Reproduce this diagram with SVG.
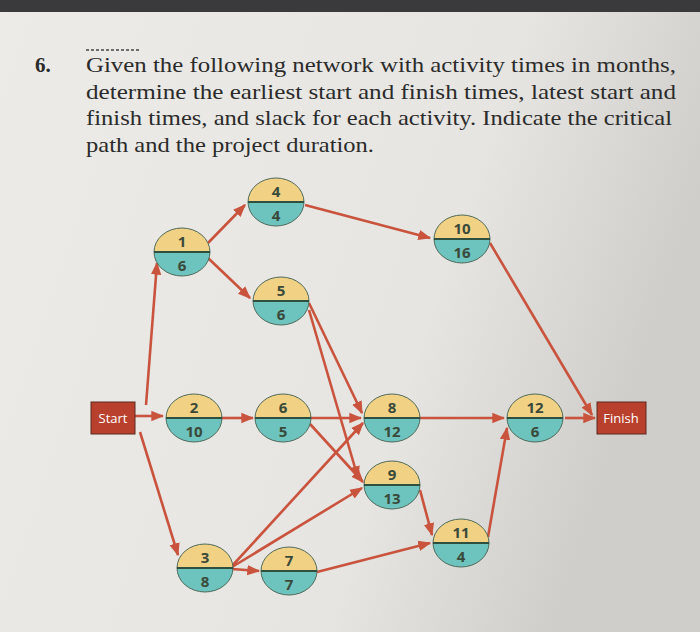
<svg xmlns="http://www.w3.org/2000/svg" width="700" height="632" viewBox="0 0 700 632">
<defs>
<linearGradient id="bg" x1="0" y1="0" x2="1" y2="0.3">
<stop offset="0" stop-color="#ecebe8"/><stop offset="0.7" stop-color="#e6e5e2"/><stop offset="1" stop-color="#cfcecb"/>
</linearGradient>
<marker id="ar" viewBox="0 0 10 10" refX="9" refY="5" markerWidth="5" markerHeight="5" orient="auto"><path d="M0,1 L10,5 L0,9 z" fill="#c9533d"/></marker>
<clipPath id="top"><rect x="-40" y="-40" width="80" height="40"/></clipPath>
<clipPath id="bot"><rect x="-40" y="0" width="80" height="40"/></clipPath>
<g id="nd">
<ellipse rx="28" ry="24" fill="#f1d184" clip-path="url(#top)"/>
<ellipse rx="28" ry="24" fill="#6dc3bd" clip-path="url(#bot)"/>
<ellipse rx="28" ry="24" fill="none" stroke="#4f6a5a" stroke-width="1"/>
<line x1="-28" y1="0" x2="28" y2="0" stroke="#2f4f3f" stroke-width="2"/>
</g>
</defs>
<style>
.t{font-family:"Liberation Serif",serif;font-size:21px;fill:#2b2b2b}
.e{stroke:#c9533d;stroke-width:2.6;fill:none;marker-end:url(#ar)}
.n{font-family:"Open Sans","DejaVu Sans",sans-serif;font-size:15px;font-weight:bold;fill:#3a4a3a;text-anchor:middle}
.b{fill:#b8402c;stroke:#5a2a20;stroke-width:1}
.bt{font-family:"Open Sans","DejaVu Sans",sans-serif;font-size:13px;fill:#fff;text-anchor:middle}
</style>
<rect width="700" height="632" fill="url(#bg)"/>
<rect width="700" height="12" fill="#3a3a3c"/>
<path d="M86 50 h55" stroke="#444" stroke-width="1.5" stroke-dasharray="3,2"/>
<text class="t" x="35" y="72" font-weight="bold">6.</text>
<text class="t" x="86" y="72" textLength="590" lengthAdjust="spacingAndGlyphs">Given the following network with activity times in months,</text>
<text class="t" x="86" y="99" textLength="590" lengthAdjust="spacingAndGlyphs">determine the earliest start and finish times, latest start and</text>
<text class="t" x="86" y="125" textLength="586" lengthAdjust="spacingAndGlyphs">finish times, and slack for each activity. Indicate the critical</text>
<text class="t" x="86" y="152" textLength="288" lengthAdjust="spacingAndGlyphs">path and the project duration.</text>
<g id="connectors">
<line class="e" x1="146" y1="405" x2="157" y2="263"/>
<line class="e" x1="134" y1="416" x2="163" y2="416"/>
<line class="e" x1="140" y1="432" x2="178" y2="555"/>
<line class="e" x1="208" y1="243" x2="245" y2="205"/>
<line class="e" x1="208" y1="258" x2="250" y2="298"/>
<line class="e" x1="305" y1="205" x2="430" y2="238"/>
<line class="e" x1="490" y1="243" x2="592" y2="415"/>
<line class="e" x1="309" y1="303" x2="362" y2="413"/>
<line class="e" x1="309" y1="310" x2="358" y2="478"/>
<line class="e" x1="221" y1="418" x2="253" y2="418"/>
<line class="e" x1="311" y1="418" x2="361" y2="418"/>
<line class="e" x1="310" y1="424" x2="363" y2="482"/>
<line class="e" x1="232" y1="566" x2="363" y2="423"/>
<line class="e" x1="232" y1="567" x2="362" y2="488"/>
<line class="e" x1="232" y1="569" x2="259" y2="571"/>
<line class="e" x1="317" y1="572" x2="430" y2="543"/>
<line class="e" x1="420" y1="490" x2="432" y2="535"/>
<line class="e" x1="488" y1="537" x2="507" y2="428"/>
<line class="e" x1="420" y1="418" x2="504" y2="418"/>
<line class="e" x1="565" y1="418" x2="595" y2="418"/>
</g>
<g id="start"><rect class="b" x="91" y="402" width="44" height="32"/><text class="bt" x="113" y="423">Start</text></g>
<g id="finish"><rect class="b" x="597" y="402" width="49" height="32"/><text class="bt" x="621" y="423">Finish</text></g>
<g id="nodes">
<g id="n1" transform="translate(182,252)"><use href="#nd"/><text class="n" y="-5">1</text><text class="n" y="19">6</text></g>
<g id="n4" transform="translate(276,202)"><use href="#nd"/><text class="n" y="-5">4</text><text class="n" y="19">4</text></g>
<g id="n10" transform="translate(462,239)"><use href="#nd"/><text class="n" y="-5">10</text><text class="n" y="19">16</text></g>
<g id="n5" transform="translate(281,301)"><use href="#nd"/><text class="n" y="-5">5</text><text class="n" y="19">6</text></g>
<g id="n2" transform="translate(194,418)"><use href="#nd"/><text class="n" y="-5">2</text><text class="n" y="19">10</text></g>
<g id="n6" transform="translate(283,418)"><use href="#nd"/><text class="n" y="-5">6</text><text class="n" y="19">5</text></g>
<g id="n8" transform="translate(392,418)"><use href="#nd"/><text class="n" y="-5">8</text><text class="n" y="19">12</text></g>
<g id="n12" transform="translate(535,418)"><use href="#nd"/><text class="n" y="-5">12</text><text class="n" y="19">6</text></g>
<g id="n9" transform="translate(392,485)"><use href="#nd"/><text class="n" y="-5">9</text><text class="n" y="19">13</text></g>
<g id="n11" transform="translate(461,543)"><use href="#nd"/><text class="n" y="-5">11</text><text class="n" y="19">4</text></g>
<g id="n3" transform="translate(205,568)"><use href="#nd"/><text class="n" y="-5">3</text><text class="n" y="19">8</text></g>
<g id="n7" transform="translate(289,571)"><use href="#nd"/><text class="n" y="-5">7</text><text class="n" y="19">7</text></g>
</g>
</svg>
